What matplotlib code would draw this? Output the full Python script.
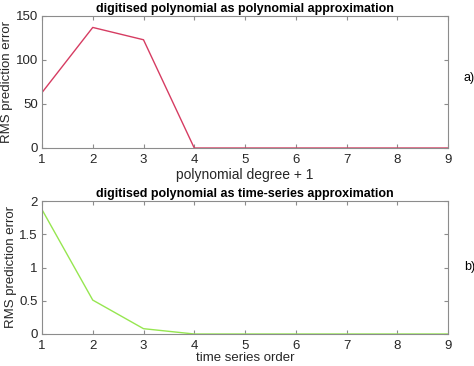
import matplotlib
matplotlib.use("Agg")
import matplotlib.pyplot as plt

# data
degree = [1, 2, 3, 4, 5, 6, 7, 8, 9]
poly_err = [63, 137, 123, 0, 0, 0, 0, 0, 0]
order = [1, 2, 3, 4, 5, 6, 7, 8, 9]
ts_err = [1.87, 0.51, 0.08, 0.0, 0.0, 0.0, 0.0, 0.0, 0.0]

plt.rcParams["font.family"] = ["Liberation Sans", "DejaVu Sans"]

fig = plt.figure(figsize=(4.74, 3.66), dpi=100)
W, H = 474, 366
ax1 = fig.add_axes([42 / W, 1 - 148 / H, 406 / W, 132 / H])
ax2 = fig.add_axes([42 / W, 1 - 334 / H, 406 / W, 133 / H])


def style(ax):
    for s in ax.spines.values():
        s.set_color("#8c8c8c")
        s.set_linewidth(0.8)
    ax.tick_params(direction="in", top=True, right=True, length=3,
                   color="#8c8c8c", labelsize=9.5, labelcolor="#262626")
    ax.tick_params(axis="x", pad=4)
    ax.tick_params(axis="y", pad=3)
    ax.set_xlim(1, 9)
    ax.set_xticks(range(1, 10))


ax1.plot(degree, poly_err, color="#d63c62", linewidth=1.0)
style(ax1)
ax1.set_ylim(0, 150)
ax1.set_yticks([0, 50, 100, 150])
ax1.set_title("digitised polynomial as polynomial approximation",
              fontsize=9, fontweight="bold", pad=3)
ax1.set_xlabel("polynomial degree + 1", fontsize=10, color="#262626", labelpad=2)
ax1.set_ylabel("RMS prediction error", fontsize=9.5, color="#262626", labelpad=2)

ax2.plot(order, ts_err, color="#96e650", linewidth=1.0)
style(ax2)
ax2.set_ylim(0, 2)
ax2.set_yticks([0, 0.5, 1, 1.5, 2])
ax2.set_yticklabels(["0", "0.5", "1", "1.5", "2"])
ax2.set_title("digitised polynomial as time-series approximation",
              fontsize=9, fontweight="bold", pad=3)
ax2.set_xlabel("time series order", fontsize=9.5, color="#262626", labelpad=0)
ax2.set_ylabel("RMS prediction error", fontsize=9.5, color="#262626", labelpad=2)

fig.text(464 / W, 1 - 78 / H, "a)", fontsize=9, va="center", ha="left")
fig.text(464 / W, 1 - 267 / H, "b)", fontsize=9, va="center", ha="left")

fig.savefig("out.png", dpi=100)
